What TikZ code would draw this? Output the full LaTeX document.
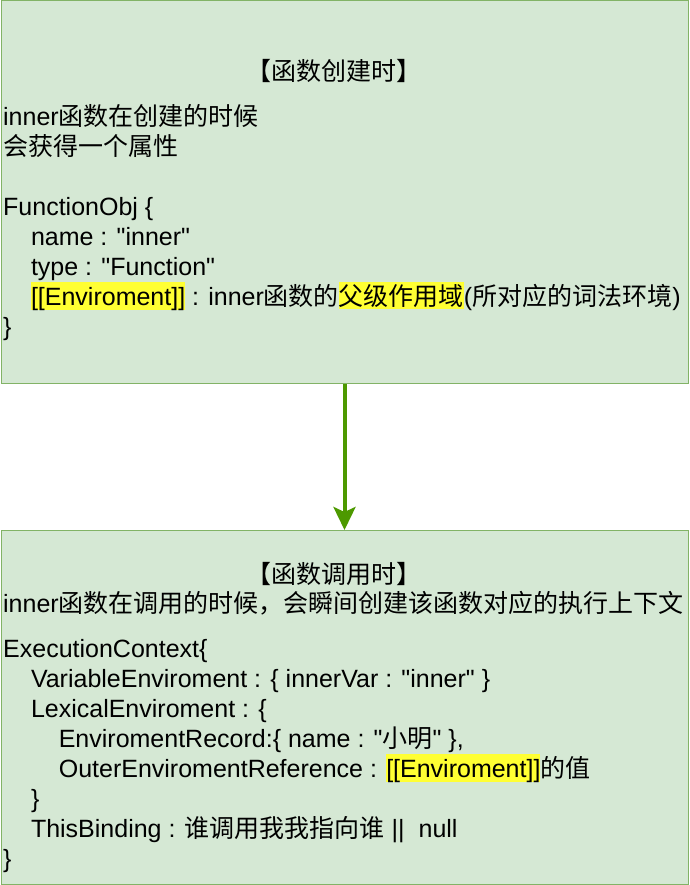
\documentclass[tikz,border=0pt]{standalone}
\usepackage{fontspec}
\setmainfont{Liberation Sans}[Ligatures=TeXOff]
\newfontfamily\cjk{Noto Sans CJK SC}
\usetikzlibrary{arrows.meta}

\definecolor{boxfill}{HTML}{D5E8D4}
\definecolor{boxline}{HTML}{82B366}
\definecolor{flowgreen}{HTML}{4D9900}
\definecolor{hlyellow}{HTML}{FFFF33}

\newcommand\zh[1]{{\cjk #1}}
\newcommand\hl[1]{{\setlength\fboxsep{0pt}\colorbox{hlyellow}{\rule[-4pt]{0pt}{27pt}#1}}}

\begin{document}
\begin{tikzpicture}[x=1pt,y=-1pt]
  \tikzset{box/.style={draw=boxline,fill=boxfill,line width=1pt,anchor=north west,minimum width=687pt,inner sep=0pt},
    codeline/.style={anchor=base west,inner sep=0pt,font=\fontsize{25}{30}\selectfont},
    headline/.style={anchor=base,inner sep=0pt,font=\fontsize{25}{30}\selectfont},
    flow/.style={draw=flowgreen,line width=4pt,arrows={-Stealth[length=23pt,width=22pt,inset=5pt]}}};
  \useasboundingbox (0,0) rectangle (689,885);
  \node[box,minimum height=382.5pt] (create) at (0.5,0.5) {};
  \node[box,minimum height=354pt] (invoke) at (0.5,530) {};
  % top box: when the function is created
  \node[headline] (ctitle) at (334,81) {\zh{【函数创建时】}};
  \node[codeline] (c1) at (3,126) {inner\zh{函数在创建的时候}};
  \node[codeline] (c2) at (3,156) {\zh{会获得一个属性}};
  \node[codeline] (c3) at (3,215) {FunctionObj \{};
  \node[codeline] (c4) at (30.8,245) {name : "inner"};
  \node[codeline] (c5) at (30.8,275) {type : "Function"};
  \node[codeline] (c6) at (30.8,305) {\hl{[[Enviroment]]} : inner\zh{函数的}\hl{\zh{父级作用域}}(\zh{所对应的词法环境})};
  \node[codeline] (c7) at (3,335) {\}};
  % bottom box: when the function is called
  \node[headline] (ititle) at (334,583) {\zh{【函数调用时】}};
  \node[codeline] (i1) at (3,612) {inner\zh{函数在调用的时候，会瞬间创建该函数对应的执行上下文}};
  \node[codeline] (i2) at (3,657) {ExecutionContext\{};
  \node[codeline] (i3) at (30.8,687) {VariableEnviroment : \{ innerVar : "inner" \}};
  \node[codeline] (i4) at (30.8,717) {LexicalEnviroment : \{};
  \node[codeline] (i5) at (58.6,747) {EnviromentRecord:\{ name : "\zh{小明}" \},};
  \node[codeline] (i6) at (58.6,777) {OuterEnviromentReference : \hl{[[Enviroment]]}\zh{的值}};
  \node[codeline] (i7) at (30.8,807) {\}};
  \node[codeline] (i8) at (30.8,837) {ThisBinding : \zh{谁调用我我指向谁} ||\ \ null};
  \node[codeline] (i9) at (3,867) {\}};
  \draw[flow] (create.south) -- (invoke.north);
\end{tikzpicture}
\end{document}
